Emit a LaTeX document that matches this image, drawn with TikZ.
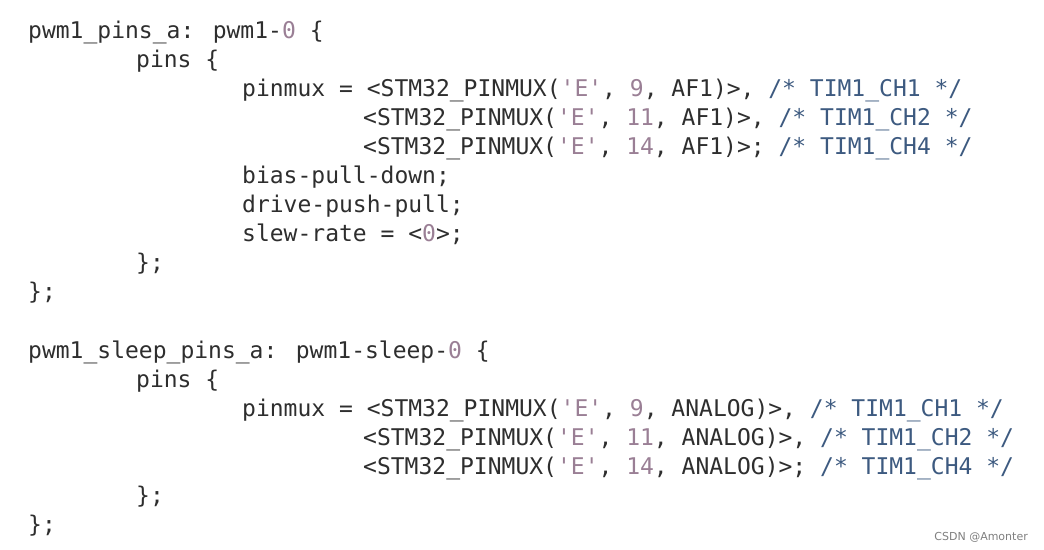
\documentclass[tikz,border=0pt]{standalone}
\usepackage{fontspec}
\newfontfamily\codefont{DejaVu Sans Mono}
\definecolor{txt}{HTML}{2E2E2E}
\definecolor{numc}{HTML}{9A7F95}
\definecolor{cmtc}{HTML}{3D5A80}
\newcommand{\nm}[1]{\textcolor{numc}{#1}}
\newcommand{\cm}[1]{\textcolor{cmtc}{#1}}
\begin{document}
\begin{tikzpicture}[x=1pt,y=-1pt,
  ln/.style={anchor=base west,inner sep=0pt,font=\codefont\fontsize{23}{27}\selectfont,text=txt}]
\useasboundingbox[fill=white] (0,0) rectangle (1044,549);
\node[ln] (l1) at (28,38) {pwm1\_pins\_a: pwm1-\nm{0} \{};
\node[ln] (l2) at (136,67) {pins \{};
\node[ln] (l3) at (242,96) {pinmux = <STM32\_PINMUX(\nm{'E'}, \nm{9}, AF1)>, \cm{/* TIM1\_CH1 */}};
\node[ln] (l4) at (363,125) {<STM32\_PINMUX(\nm{'E'}, \nm{11}, AF1)>, \cm{/* TIM1\_CH2 */}};
\node[ln] (l5) at (363,154) {<STM32\_PINMUX(\nm{'E'}, \nm{14}, AF1)>; \cm{/* TIM1\_CH4 */}};
\node[ln] (l6) at (242,183) {bias-pull-down;};
\node[ln] (l7) at (242,212) {drive-push-pull;};
\node[ln] (l8) at (242,241) {slew-rate = <\nm{0}>;};
\node[ln] (l9) at (136,270) {\};};
\node[ln] (l10) at (28,299) {\};};
\node[ln] (l11) at (28,358) {pwm1\_sleep\_pins\_a: pwm1-sleep-\nm{0} \{};
\node[ln] (l12) at (136,387) {pins \{};
\node[ln] (l13) at (242,416) {pinmux = <STM32\_PINMUX(\nm{'E'}, \nm{9}, ANALOG)>, \cm{/* TIM1\_CH1 */}};
\node[ln] (l14) at (363,445) {<STM32\_PINMUX(\nm{'E'}, \nm{11}, ANALOG)>, \cm{/* TIM1\_CH2 */}};
\node[ln] (l15) at (363,474) {<STM32\_PINMUX(\nm{'E'}, \nm{14}, ANALOG)>; \cm{/* TIM1\_CH4 */}};
\node[ln] (l16) at (136,503) {\};};
\node[ln] (l17) at (28,532) {\};};
\node[anchor=base east,inner sep=0pt,font=\fontspec{DejaVu Sans}\fontsize{11}{13}\selectfont,text=gray] (wm) at (1028,540) {CSDN @Amonter};
\end{tikzpicture}
\end{document}
